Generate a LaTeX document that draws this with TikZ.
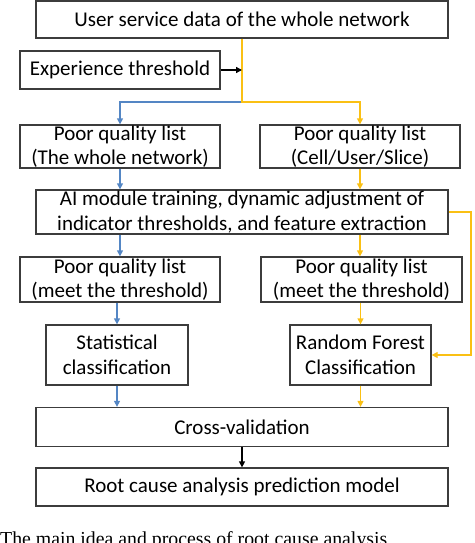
\documentclass[tikz,border=0pt]{standalone}
\usepackage{fontspec}
\setmainfont{Carlito}
\newfontfamily\capfont{Liberation Serif}
\usetikzlibrary{arrows.meta}
\definecolor{cblue}{RGB}{84,134,196}
\definecolor{cyel}{RGB}{250,192,20}
\definecolor{cbox}{RGB}{60,60,60}
\tikzset{
  box/.style={draw=cbox, line width=1.3pt, rectangle, inner sep=0pt, align=center,
    font=\fontsize{21}{24.5}\selectfont, text=black},
  tip/.style={-{Triangle[length=6pt,width=6pt]}},
  bl/.style={draw=cblue, line width=1.3pt},
  yl/.style={draw=cyel, line width=1.3pt},
  bk/.style={draw=black, line width=1.3pt},
}
\begin{document}
\begin{tikzpicture}[x=1pt,y=-1pt]
\useasboundingbox (0,0) rectangle (474,543);
\node[box, minimum width=412pt, minimum height=37pt] (top) at (242,19.5) {User service data of the whole network};
\node[box, minimum width=200pt, minimum height=38pt] (exp) at (120,70) {Experience threshold};
\node[box, minimum width=200pt, minimum height=43pt] (pq1) at (120,146.5) {Poor quality list\\(The whole network)};
\node[box, minimum width=200pt, minimum height=43pt] (pq2) at (360,146.5) {Poor quality list\\(Cell/User/Slice)};
\node[box, minimum width=412pt, minimum height=44pt] (ai) at (242,212) {AI module training, dynamic adjustment of\\indicator thresholds, and feature extraction};
\node[box, minimum width=200pt, minimum height=45pt] (pm1) at (120,279.5) {Poor quality list\\(meet the threshold)};
\node[box, minimum width=201pt, minimum height=45pt] (pm2) at (361.5,279.5) {Poor quality list\\(meet the threshold)};
\node[box, minimum width=142pt, minimum height=60pt] (stat) at (117,355) {Statistical\\classification};
\node[box, minimum width=141pt, minimum height=60pt] (rf) at (360.5,355) {Random Forest\\Classification};
\node[box, minimum width=412pt, minimum height=39pt] (cv) at (242,427) {Cross-validation};
\node[box, minimum width=412pt, minimum height=38pt] (root) at (242,487) {Root cause analysis prediction model};
\node[anchor=base west, inner sep=0pt, font=\capfont\fontsize{19.8}{23}\selectfont] (cap) at (0,545) {The main idea and process of root cause analysis};
% connectors
\coordinate (split) at (242,102);
\coordinate (loop) at (471,212);
\draw[bl, tip] (split) -| (pq1.north);
\draw[yl, tip] (top.south) -- (split) -| (pq2.north);
\draw[bk, tip] (exp.east) -- (exp.east -| split);
\draw[bl, tip] (pq1.south) -- (pq1.south |- ai.north);
\draw[yl, tip] (pq2.south) -- (pq2.south |- ai.north);
\draw[bl, tip] (ai.south -| pm1) -- (pm1.north);
\draw[yl, tip] (ai.south -| pq2) -- (pq2 |- pm2.north);
\draw[bl, tip] (pm1.south -| stat) -- (stat.north);
\draw[yl, tip] (pm2.south -| rf) -- (rf.north);
\draw[yl, tip] (ai.east) -- (loop) |- (rf.east);
\draw[bl, tip] (stat.south) -- (stat.south |- cv.north);
\draw[yl, tip] (rf.south) -- (rf.south |- cv.north);
\draw[bk, tip] (cv.south) -- (root.north);
\end{tikzpicture}
\end{document}
